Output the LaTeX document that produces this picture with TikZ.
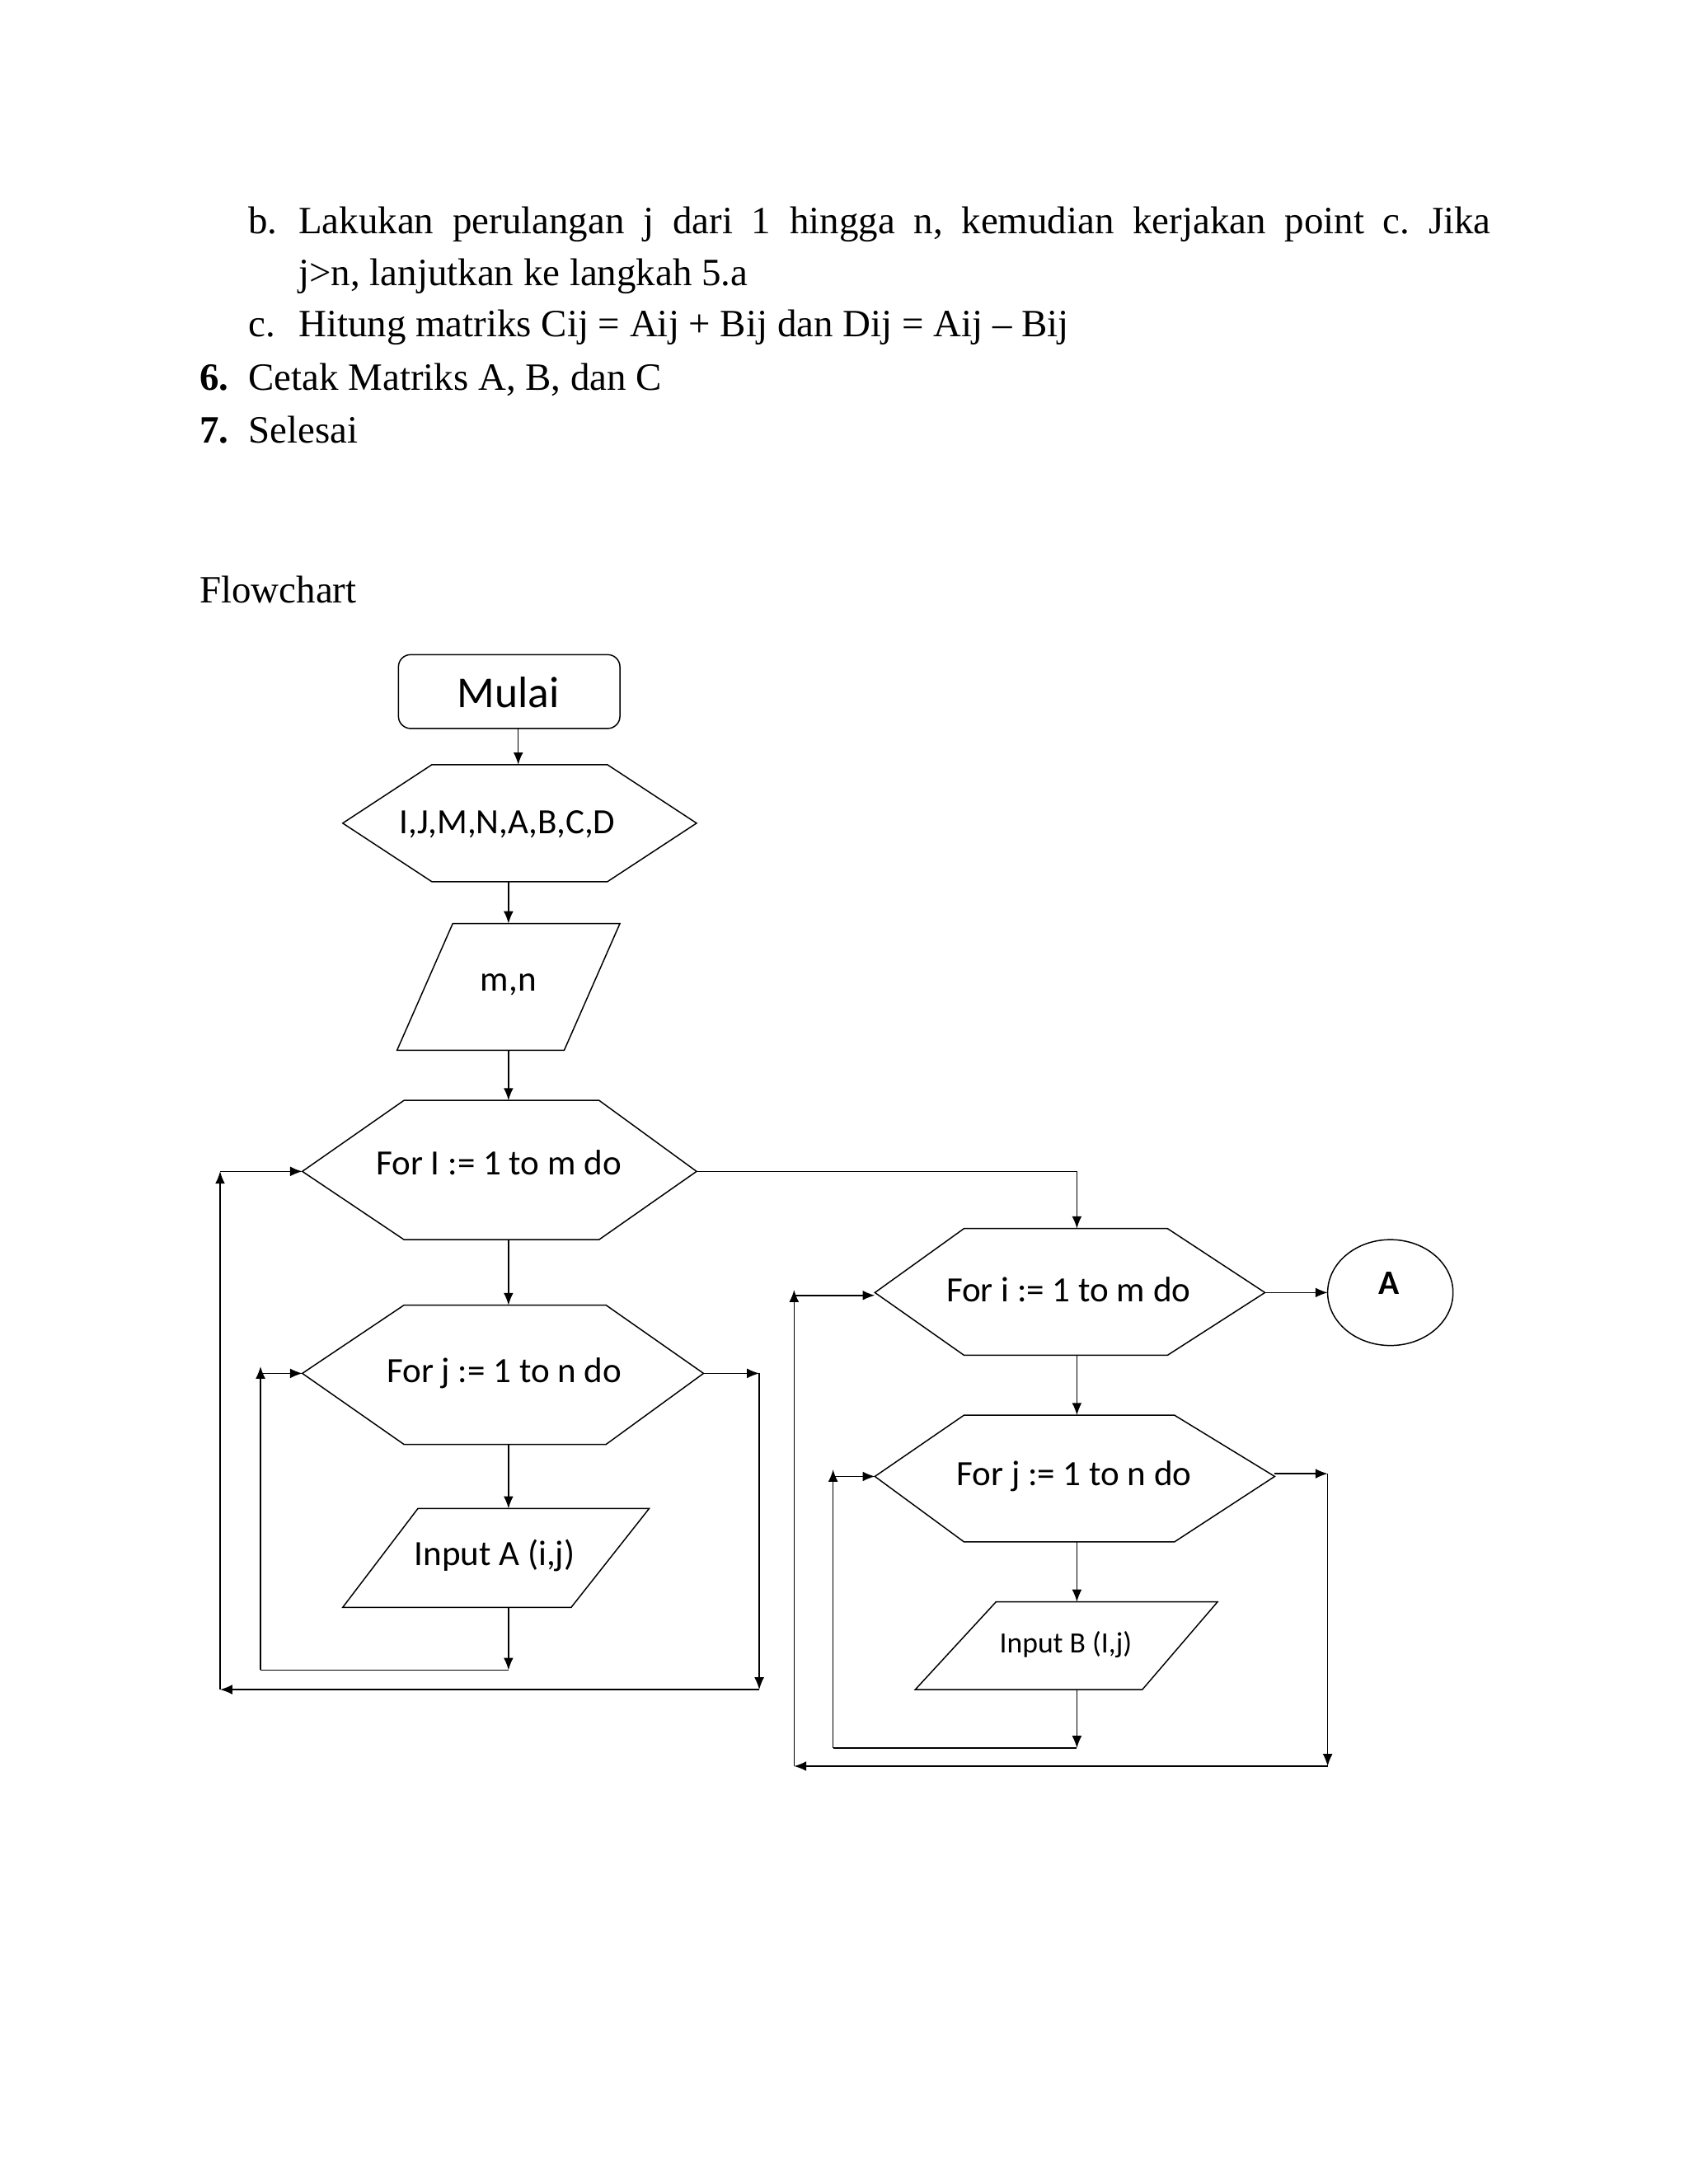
\documentclass[tikz,border=0pt]{standalone}
\usepackage{fontspec}
\setmainfont{Liberation Serif}
\newfontfamily\flow{Carlito}
\usetikzlibrary{shapes.geometric,arrows.meta}
\begin{document}
\frenchspacing
\begin{tikzpicture}[x=0.02cm,y=-0.02cm,
    body/.style={anchor=base west,inner sep=0,font=\fontsize{15.8}{18}\selectfont},
    lbl/.style={inner sep=0,font=\flow\fontsize{14.5}{16}\selectfont},
    box/.style={draw,line width=0.5pt},
    arr/.style={-{Latex[length=5pt,width=4pt]},line width=0.5pt},
    ln/.style={line width=0.5pt}]
\useasboundingbox (0,0) rectangle (1212,1568);
% text above
\node[body] (tb) at (178,168) {b.};
\node[body] (tb1) at (214,168) {\hbox to 17.12cm{Lakukan perulangan j dari 1 hingga n, kemudian kerjakan point c. Jika}};
\node[body] (tb2) at (214,205) {j>n, lanjutkan ke langkah 5.a};
\node[body] (tc) at (178,242) {c.};
\node[body] (tc1) at (214,242) {Hitung matriks Cij = Aij + Bij dan Dij = Aij – Bij};
\node[body] (t6) at (143,280) {\textbf{6.}};
\node[body] (t6a) at (178,280) {Cetak Matriks A, B, dan C};
\node[body] (t7) at (143,318) {\textbf{7.}};
\node[body] (t7a) at (178,318) {Selesai};
\node[body] (tf) at (143,433) {Flowchart};
% shapes
\draw[box,rounded corners=5pt] (286,470) rectangle (445,523);
\node[lbl,font=\flow\fontsize{18}{20}\selectfont] (mulai) at (365,497) {Mulai};
\draw[box] (246,591)--(310,549)--(436,549)--(500,591)--(436,633)--(310,633)--cycle;
\node[lbl] (var) at (364,592) {I,J,M,N,A,B,C,D};
\draw[box] (325,663)--(445,663)--(405,754)--(285,754)--cycle;
\node[lbl] (mn) at (365,707) {m,n};
\draw[box] (217,841)--(290,790)--(430,790)--(500,841)--(430,890)--(290,890)--cycle;
\node[lbl] (fi1) at (358,835) {For I := 1 to m do};
\draw[box] (217,986)--(290,937)--(435,937)--(505,986)--(435,1037)--(290,1037)--cycle;
\node[lbl] (fj1) at (362,986) {For j := 1 to n do};
\draw[box] (300,1083)--(466,1083)--(410,1154)--(246,1154)--cycle;
\node[lbl] (ina) at (355,1117) {Input A (i,j)};
\draw[box] (628,928)--(692,882)--(838,882)--(908,928)--(838,973)--(692,973)--cycle;
\node[lbl] (fi2) at (767,926) {For i := 1 to m do};
\draw[box] (998,928) ellipse [x radius=45, y radius=38];
\node[lbl,font=\flow\bfseries\fontsize{14}{15}\selectfont] (ca) at (997,921) {A};
\draw[box] (628,1060)--(692,1016)--(843,1016)--(915,1060)--(843,1107)--(692,1107)--cycle;
\node[lbl] (fj2) at (771,1060) {For j := 1 to n do};
\draw[box] (715,1150)--(874,1150)--(820,1213)--(657,1213)--cycle;
\node[lbl,font=\flow\fontsize{12}{13}\selectfont] (inb) at (765,1181) {Input B (I,j)};
% connectors
\draw[arr] (372,523)--(372,549);
\draw[arr] (365,633)--(365,663);
\draw[arr] (365,754)--(365,790);
\draw[arr] (365,890)--(365,937);
\draw[arr] (365,1037)--(365,1083);
\draw[arr] (365,1154)--(365,1199);
\draw[ln] (365,1199)--(187,1199);
\draw[arr] (187,1199)--(187,981);
\draw[arr] (187,986)--(217,986);
\draw[arr] (505,986)--(545,986);
\draw[arr] (545,986)--(545,1213);
\draw[arr] (545,1213)--(158,1213);
\draw[arr] (158,1213)--(158,841);
\draw[arr] (158,841)--(217,841);
\draw[ln] (500,841)--(773,841);
\draw[arr] (773,841)--(773,882);
\draw[arr] (908,928)--(953,928);
\draw[arr] (773,973)--(773,1016);
\draw[arr] (773,1107)--(773,1150);
\draw[arr] (773,1213)--(773,1255);
\draw[ln] (773,1255)--(598,1255);
\draw[arr] (598,1255)--(598,1055);
\draw[arr] (598,1060)--(628,1060);
\draw[arr] (915,1058)--(953,1058);
\draw[arr] (953,1058)--(953,1268);
\draw[arr] (953,1268)--(570,1268);
\draw[arr] (570,1268)--(570,926);
\draw[arr] (570,930)--(628,930);
\end{tikzpicture}
\end{document}
